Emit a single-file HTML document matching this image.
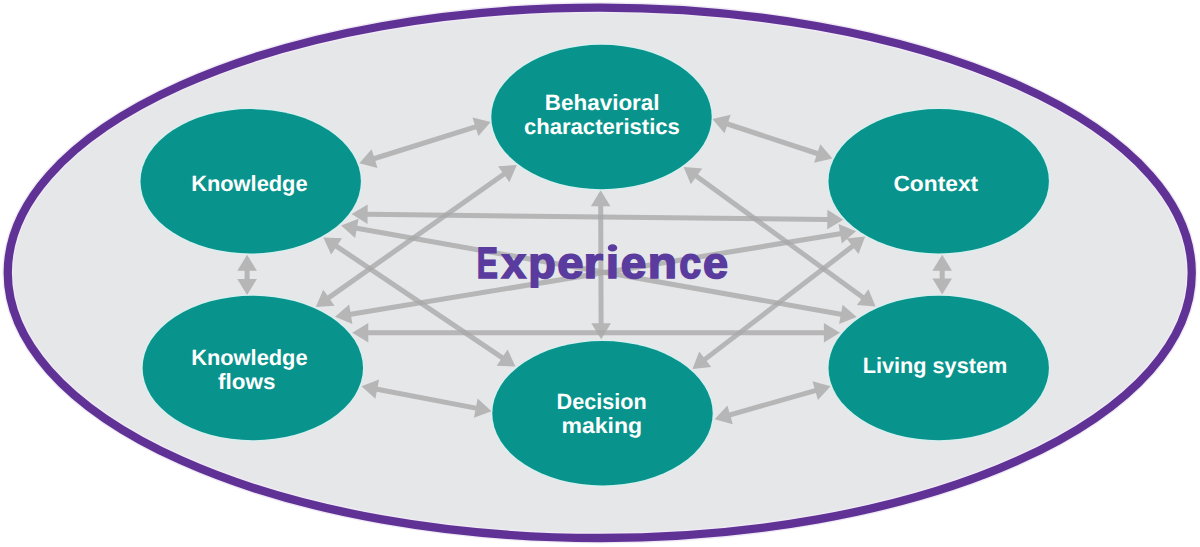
<!DOCTYPE html><html><head><meta charset="utf-8"><style>html,body{margin:0;padding:0;background:#fff;width:1200px;height:547px;overflow:hidden}svg{display:block}text{font-family:"Liberation Sans",sans-serif;font-weight:bold;text-rendering:geometricPrecision}</style></head><body>
<svg width="1200" height="547" viewBox="0 0 1200 547">
<ellipse cx="599.75" cy="272.8" rx="592" ry="265.2" fill="#e6e7e9" stroke="#efeaf5" stroke-width="11"/>
<ellipse cx="599.75" cy="272.8" rx="592" ry="265.2" fill="none" stroke="#603296" stroke-width="8.3"/>
<g fill="#a8a8a9" fill-opacity="0.78">
<path d="M359.3,163.3 L377.5,167.9 L375.3,160.9 L476.2,129.2 L478.4,136.1 L490.7,122.0 L472.5,117.4 L474.7,124.4 L373.8,156.1 L371.6,149.2Z"/>
<path d="M712.4,119.0 L724.5,133.3 L726.8,126.4 L816.4,155.9 L814.1,162.8 L832.4,158.5 L820.3,144.2 L818.0,151.1 L728.4,121.6 L730.7,114.7Z"/>
<path d="M247.1,254.7 L237.3,270.7 L244.6,270.7 L244.6,279.0 L237.3,279.0 L247.1,295.0 L256.9,279.0 L249.6,279.0 L249.6,270.7 L256.9,270.7Z"/>
<path d="M942.2,254.7 L932.4,270.7 L939.7,270.7 L939.7,278.4 L932.4,278.4 L942.2,294.4 L952.0,278.4 L944.7,278.4 L944.7,270.7 L952.0,270.7Z"/>
<path d="M361.5,386.2 L375.4,398.8 L376.7,391.7 L475.3,410.6 L473.9,417.8 L491.5,411.2 L477.6,398.6 L476.3,405.7 L377.7,386.8 L379.1,379.6Z"/>
<path d="M714.7,419.2 L732.8,424.2 L730.8,417.2 L815.9,393.0 L817.9,400.0 L830.6,386.2 L812.5,381.2 L814.5,388.2 L729.4,412.4 L727.4,405.4Z"/>
<path d="M600.6,190.2 L590.9,206.2 L598.2,206.2 L598.6,323.3 L591.3,323.3 L601.2,339.3 L610.9,323.3 L603.6,323.3 L603.2,206.2 L610.5,206.2Z"/>
<path d="M351.6,214.1 L367.5,224.1 L367.6,216.8 L827.3,222.0 L827.2,229.3 L843.3,219.7 L827.4,209.7 L827.3,217.0 L367.6,211.8 L367.7,204.5Z"/>
<path d="M352.3,332.8 L368.3,342.6 L368.3,335.3 L823.9,335.3 L823.9,342.6 L839.9,332.8 L823.9,323.0 L823.9,330.3 L368.3,330.3 L368.3,323.0Z"/>
<path d="M341.1,225.5 L355.1,237.9 L356.4,230.8 L840.4,316.8 L839.1,323.9 L856.6,317.1 L842.6,304.7 L841.3,311.8 L357.3,225.8 L358.6,218.7Z"/>
<path d="M335.0,316.8 L352.4,323.9 L351.2,316.7 L840.6,236.3 L841.8,243.5 L856.0,231.2 L838.6,224.1 L839.8,231.3 L350.4,311.7 L349.2,304.5Z"/>
<path d="M323.3,237.4 L331.1,254.5 L335.2,248.4 L500.7,359.7 L496.7,365.7 L515.4,366.5 L507.6,349.4 L503.5,355.5 L338.0,244.2 L342.0,238.2Z"/>
<path d="M315.8,306.9 L334.5,305.7 L330.3,299.7 L505.2,176.3 L509.4,182.2 L516.8,165.0 L498.1,166.2 L502.3,172.2 L327.4,295.6 L323.2,289.7Z"/>
<path d="M683.6,166.9 L690.8,184.2 L695.1,178.3 L861.2,299.2 L856.9,305.1 L875.6,306.6 L868.4,289.3 L864.1,295.2 L698.0,174.3 L702.3,168.4Z"/>
<path d="M865.2,236.5 L846.5,238.5 L851.0,244.3 L703.7,357.2 L699.2,351.4 L692.5,368.9 L711.2,366.9 L706.7,361.1 L854.0,248.2 L858.5,254.0Z"/>
</g>
<g fill="#5a3b9e" stroke="#5a3b9e" stroke-width="1.6" font-size="44">
<text transform="translate(476.78,277.85) scale(0.7200,1)">E</text>
<text transform="translate(501.50,277.85) scale(1.0038,1)">x</text>
<text transform="translate(528.15,277.85) scale(1.0232,1)">p</text>
<text transform="translate(557.23,277.85) scale(1.0725,1)">e</text>
<text transform="translate(583.62,277.85) scale(1.1410,1)">r</text>
<text transform="translate(605.86,277.85) scale(1.0839,1)">ı</text>
<text transform="translate(620.65,277.85) scale(1.0462,1)">e</text>
<text transform="translate(647.63,277.85) scale(1.0870,1)">n</text>
<text transform="translate(679.30,277.85) scale(0.8957,1)">c</text>
<text transform="translate(702.98,277.85) scale(1.0242,1)">e</text>
<ellipse cx="612.5" cy="247.9" rx="4.7" ry="3.7" stroke="none"/>
</g>
<ellipse cx="250.7" cy="181.3" rx="111.4" ry="73.4" fill="#d6f0f0"/>
<ellipse cx="250.7" cy="181.3" rx="110.2" ry="72.2" fill="#08948c"/>
<ellipse cx="601.5" cy="117.0" rx="111.4" ry="73.4" fill="#d6f0f0"/>
<ellipse cx="601.5" cy="117.0" rx="110.2" ry="72.2" fill="#08948c"/>
<ellipse cx="938.7" cy="181.2" rx="111.4" ry="73.4" fill="#d6f0f0"/>
<ellipse cx="938.7" cy="181.2" rx="110.2" ry="72.2" fill="#08948c"/>
<ellipse cx="252.8" cy="368" rx="111.4" ry="73.4" fill="#d6f0f0"/>
<ellipse cx="252.8" cy="368" rx="110.2" ry="72.2" fill="#08948c"/>
<ellipse cx="602.5" cy="413.3" rx="111.4" ry="73.4" fill="#d6f0f0"/>
<ellipse cx="602.5" cy="413.3" rx="110.2" ry="72.2" fill="#08948c"/>
<ellipse cx="938.7" cy="368" rx="111.4" ry="73.4" fill="#d6f0f0"/>
<ellipse cx="938.7" cy="368" rx="110.2" ry="72.2" fill="#08948c"/>
<text x="249.4" y="191.4" text-anchor="middle" font-size="22" fill="#ffffff" textLength="116.4" lengthAdjust="spacingAndGlyphs">Knowledge</text>
<text x="602.2" y="110.3" text-anchor="middle" font-size="22" fill="#ffffff" textLength="114.7" lengthAdjust="spacingAndGlyphs">Behavioral</text>
<text x="601.9" y="134.3" text-anchor="middle" font-size="22" fill="#ffffff" textLength="156.0" lengthAdjust="spacingAndGlyphs">characteristics</text>
<text x="935.8" y="191.2" text-anchor="middle" font-size="22" fill="#ffffff" textLength="84.7" lengthAdjust="spacingAndGlyphs">Context</text>
<text x="249.4" y="364.6" text-anchor="middle" font-size="22" fill="#ffffff" textLength="116.4" lengthAdjust="spacingAndGlyphs">Knowledge</text>
<text x="246.8" y="388.8" text-anchor="middle" font-size="22" fill="#ffffff" textLength="57.400000000000006" lengthAdjust="spacingAndGlyphs">flows</text>
<text x="601.6" y="408.6" text-anchor="middle" font-size="22" fill="#ffffff" textLength="90.10000000000001" lengthAdjust="spacingAndGlyphs">Decision</text>
<text x="601.8" y="432.7" text-anchor="middle" font-size="22" fill="#ffffff" textLength="80.60000000000001" lengthAdjust="spacingAndGlyphs">making</text>
<text x="935" y="372.8" text-anchor="middle" font-size="22" fill="#ffffff" textLength="144.6" lengthAdjust="spacingAndGlyphs">Living system</text>
</svg></body></html>
